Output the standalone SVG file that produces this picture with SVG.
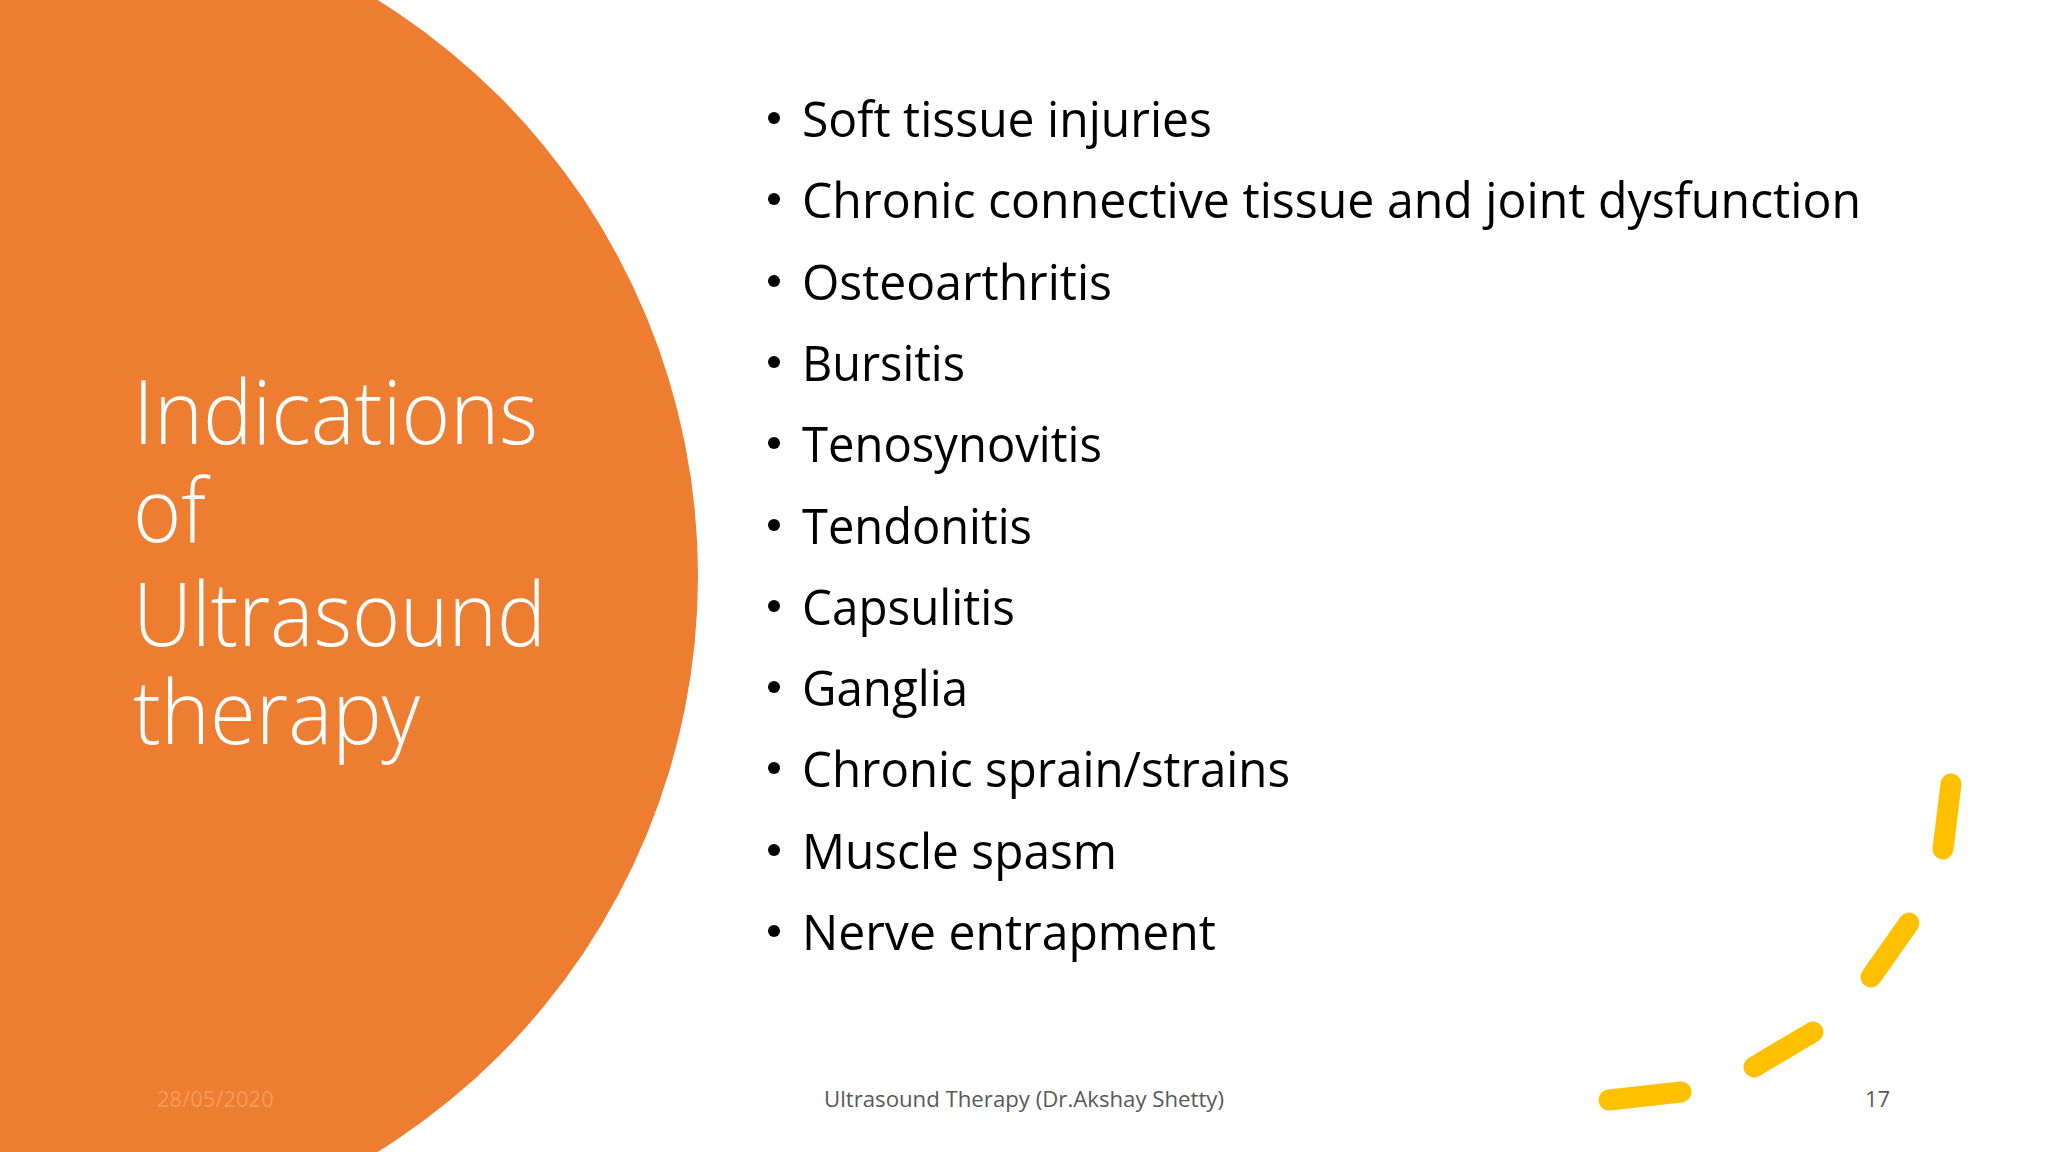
<svg xmlns="http://www.w3.org/2000/svg" width="2048" height="1152" viewBox="0 0 2048 1152">
<style>
.t{font-family:"Open Sans","Liberation Sans",sans-serif;font-weight:300;fill:#fff;font-size:88px}
.b{font-family:"Open Sans","Liberation Sans",sans-serif;fill:#000;font-size:50px}
.f{font-family:"Open Sans","Liberation Sans",sans-serif;font-size:22px}
.d{stroke:#FFC000;stroke-width:21;stroke-linecap:round;fill:none}
</style>
<rect width="2048" height="1152" fill="#fff"/>
<g id="circle"><circle cx="20" cy="576" r="678" fill="#ED7D31"/></g>
<g id="title">
<text class="t" x="133" y="444" textLength="405" lengthAdjust="spacingAndGlyphs">Indications</text>
<text class="t" x="133" y="542" textLength="73" lengthAdjust="spacingAndGlyphs">of</text>
<text class="t" x="133" y="646" textLength="413" lengthAdjust="spacingAndGlyphs">Ultrasound</text>
<text class="t" x="133" y="744" textLength="287" lengthAdjust="spacingAndGlyphs">therapy</text>
</g>
<g id="bullets">
<g fill="#000">
<circle cx="774" cy="118" r="6"/><circle cx="774" cy="199" r="6"/><circle cx="774" cy="281" r="6"/><circle cx="774" cy="362" r="6"/><circle cx="774" cy="443" r="6"/><circle cx="774" cy="525" r="6"/><circle cx="774" cy="606" r="6"/><circle cx="774" cy="687" r="6"/><circle cx="774" cy="768" r="6"/><circle cx="774" cy="850" r="6"/><circle cx="774" cy="931" r="6"/>
</g>
<text class="b" x="802" y="137" textLength="410" lengthAdjust="spacingAndGlyphs">Soft tissue injuries</text>
<text class="b" x="802" y="218" textLength="1059" lengthAdjust="spacingAndGlyphs">Chronic connective tissue and joint dysfunction</text>
<text class="b" x="802" y="300" textLength="310" lengthAdjust="spacingAndGlyphs">Osteoarthritis</text>
<text class="b" x="802" y="381" textLength="163" lengthAdjust="spacingAndGlyphs">Bursitis</text>
<text class="b" x="802" y="462" textLength="300" lengthAdjust="spacingAndGlyphs">Tenosynovitis</text>
<text class="b" x="802" y="544" textLength="230" lengthAdjust="spacingAndGlyphs">Tendonitis</text>
<text class="b" x="802" y="625" textLength="213" lengthAdjust="spacingAndGlyphs">Capsulitis</text>
<text class="b" x="802" y="706" textLength="166" lengthAdjust="spacingAndGlyphs">Ganglia</text>
<text class="b" x="802" y="787" textLength="488" lengthAdjust="spacingAndGlyphs">Chronic sprain/strains</text>
<text class="b" x="802" y="869" textLength="315" lengthAdjust="spacingAndGlyphs">Muscle spasm</text>
<text class="b" x="802" y="950" textLength="414" lengthAdjust="spacingAndGlyphs">Nerve entrapment</text>
</g>
<g id="dashes">
<path class="d" d="M1951 784 L1943 849"/>
<path class="d" d="M1909 923 L1871 977"/>
<path class="d" d="M1813 1032 L1754 1067"/>
<path class="d" d="M1681 1092 L1609 1100"/>
</g>
<g id="footer">
<text class="f" x="157" y="1107" fill="#F39A5E">28/05/2020</text>
<text class="f" x="824" y="1107" fill="#595959" textLength="400" lengthAdjust="spacingAndGlyphs">Ultrasound Therapy (Dr.Akshay Shetty)</text>
<text class="f" x="1865" y="1107" fill="#595959">17</text>
</g>
</svg>
